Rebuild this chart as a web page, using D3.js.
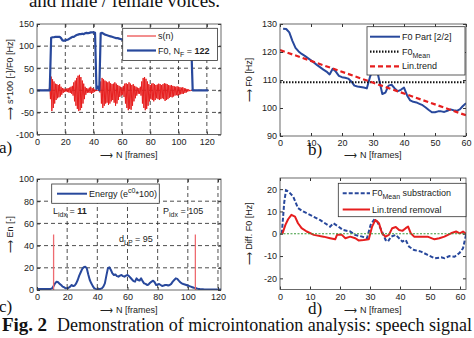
<!DOCTYPE html>
<html>
<head>
<meta charset="utf-8">
<script src="https://cdn.jsdelivr.net/npm/d3@7"></script>
<style>
  body { margin: 0; background: #fff; overflow: hidden; }
  svg { display: block; }
</style>
</head>
<body>
<script>
// a) speech signal envelope (s*100) per frame, and F0 per frame
const speechTop = [
  0, 0, 0, 0, 0, 0, 0, 0, 0, 10,
  31, 25, 20, 15, 14, 12, 14, 8, 5, 4,
  3, 4, 5, 6, 8, 10, 18, 22, 28, 33,
  35, 30, 22, 15, 8, 5, 4, 6, 8, 5,
  4, 2, 1, 1, 3, 20, 28, 25, 22, 20,
  18, 20, 16, 14, 15, 18, 15, 12, 10, 8,
  6, 10, 15, 16, 14, 18, 15, 12, 14, 10,
  8, 6, 5, 8, 20, 28, 30, 26, 20, 14,
  12, 15, 16, 14, 12, 13, 15, 14, 12, 14,
  16, 15, 14, 12, 11, 12, 10, 9, 8, 9,
  8, 7, 6, 7, 5, 4, 3, 2, 1, 0
];
const speechBottom = [
  0, 0, 0, 0, 0, 0, 0, 0, 0, -20,
  -47, -40, -30, -22, -18, -16, -14, -10, -6, -4,
  -3, -4, -5, -6, -8, -12, -25, -35, -42, -47,
  -45, -40, -30, -20, -10, -6, -5, -6, -8, -6,
  -4, -2, -1, -1, -5, -30, -40, -35, -30, -28,
  -33, -30, -25, -22, -28, -35, -30, -22, -15, -12,
  -10, -15, -30, -40, -45, -42, -44, -35, -25, -18,
  -12, -8, -8, -12, -30, -40, -45, -42, -35, -25,
  -20, -22, -25, -22, -18, -20, -22, -20, -18, -20,
  -24, -22, -20, -17, -15, -16, -14, -12, -11, -12,
  -10, -9, -8, -8, -6, -5, -3, -2, -1, 0
];
const f0Frames = [
  0, 0, 0, 0, 0, 0, 0, 0, 0, 0,
  119, 120, 120, 121, 121, 121, 121, 118, 113, 112,
  113, 114, 115, 117, 119, 121, 121, 123, 125, 126,
  127, 127, 128, 127, 129, 130, 129, 130, 131, 131,
  131, 130, 3, 8, 0, 129, 130, 128, 126, 125,
  124, 123, 122, 121, 120, 119, 118, 118, 117, 116,
  115, 114, 113, 114, 113, 112, 111, 111, 110, 110,
  109, 108, 108, 108, 107, 107, 107, 112, 114, 115,
  110, 105, 106, 108, 108, 107, 106, 107, 107, 105,
  103, 102, 102, 101, 101, 100, 100, 99, 99, 99,
  99, 99, 99, 99, 99, 100, 99, 99, 100, 102,
  0, 0, 0, 0, 0, 0, 0, 0, 0, 0, 0, 0
];
const framesCount = 122;

// b) second voiced part, frames 1..60
const partF0 = [
  128.3, 128.2, 127, 124, 121.5, 120.2, 119.3, 118.6, 117.8, 117,
  116.2, 115.3, 114.5, 113.7, 113, 112, 114, 113, 111.5, 111,
  110.8, 110.5, 109.5, 108, 107.7, 107.5, 107.3, 107, 111, 114,
  115, 110, 105, 105.5, 108, 108.3, 107, 106, 106.5, 107.3,
  104.5, 102.7, 102.2, 102, 101.5, 101, 100.2, 99.3, 98.5, 98.5,
  98.8, 98.8, 98.6, 99, 99.5, 99.2, 99, 99.5, 100.7, 101.7
];
const meanF0 = 109.2;
const trendFrames = [0, 60];
const trendF0 = [120.7, 97.4];

// c) energy per frame and the two boundary markers
const energy = [
  1, 1, 1, 1, 1, 1, 1, 1, 1, 1,
  1.5, 3.5, 6, 7.5, 7, 5.5, 4.5, 3, 2.5, 1.5,
  1.5, 2, 3, 4.5, 3.5, 4, 6, 9, 13, 16,
  19, 20.5, 21, 19.5, 14, 9, 6, 3.5, 1.5, 1,
  0.6, 0.8, 1, 1.5, 3, 6, 13, 19.5, 20.5, 18,
  15, 13.5, 14, 12.5, 12, 13, 13.5, 12.5, 12, 13,
  13.5, 12.5, 11, 9.5, 8, 7.5, 10.5, 9, 8.5, 10.5,
  8, 6, 5.5, 4.5, 5, 6.5, 7.5, 8.4, 7, 4.5,
  5, 5.4, 4.5, 3.6, 4, 4.5, 4.5, 4, 4.5, 5.5,
  7.5, 9, 10.5, 10, 8.4, 7, 6, 5.4, 5, 4.5,
  4, 3.5, 3, 2.5, 2, 1.8, 1.3, 1, 0.8, 0.7,
  0.6, 0.5, 0.5, 0.5, 0.5, 0.5, 0.5, 0.5, 0.5, 0.5, 0.5, 0.5, 0.5
];
const markerFrames = [11, 105];
const markerHeight = 50;
const lIdx = 11, pIdx = 105, dLP = 95;

// d) F0 differences
const diffMeanX = [0.6, 1.4, 2, 2.8, 4.4, 6, 7.7, 10, 13.3, 16.7, 17.8, 19.5, 21, 23.4, 25, 27.4, 29, 30.2, 31.3, 32.4, 34, 35.2, 36, 37, 38.6, 39.7, 40.8, 41.9, 43, 44.7, 47, 49.2, 51.5, 53.7, 54.8, 56.5, 58.2, 59.9, 61, 62];
const diffMeanY = [0, 14, 19.5, 19, 16.7, 11.5, 10, 8.5, 6.2, 3.2, 4.7, 3.2, 1.7, 1, -0.5, -1.3, -2, 4, 6.2, 5.5, 1, -2.8, -3.5, -1.3, -0.5, -2, -3.5, -2.8, -5.8, -7.3, -8, -9.5, -11, -10.6, -11, -10, -10.3, -8.5, -6.5, -0.5];
const diffTrendX = [0.8, 1.8, 2.7, 3.8, 5, 6, 7.2, 8.9, 11.3, 14.5, 16.7, 18.4, 19, 20.6, 21.8, 23.4, 25.1, 26.2, 27.9, 29.6, 30.7, 31.8, 33, 34, 35.2, 36.3, 37.4, 38.6, 39.7, 40.8, 41.9, 42.7, 43.6, 44.7, 47, 49.2, 51.5, 53.1, 54.8, 57, 58.7, 59.9, 61, 62];
const diffTrendY = [0, 4, 6.5, 8.5, 7.7, 4.7, 2.5, 1, -0.5, -1.3, -2, -2.5, -0.5, -0.5, -2, -1.3, -2, -3, -2.8, -2.5, 3.2, 6.2, 4.7, 0.2, -1.3, -0.5, 2.5, 3, 1.7, 1.3, 2.5, 3.2, 0.2, -1.3, -1.3, -1.3, -2.5, -2, -1.3, 0.2, 1, 0.2, 1, 0];

// tick values
const ticksA = { x: [0, 20, 40, 60, 80, 100, 120], y: [-100, -50, 0, 50, 100, 150] };
const ticksB = { x: [0, 10, 20, 30, 40, 50, 60], y: [90, 100, 110, 120, 130] };
const ticksC = { x: [0, 20, 40, 60, 80, 100, 120], y: [0, 20, 40, 60, 80, 100] };
const ticksD = { x: [0, 10, 20, 30, 40, 50, 60], y: [-20, -10, 0, 10, 20] };

const BLUE = "#28489c";
const RED = "#e61e1e";
const PINK = "#ee6b70";
const GREEN = "#3a9a3a";
const SANS = "'Liberation Sans', Arial, sans-serif";
const SERIF = "'Liberation Serif', 'Times New Roman', serif";

const svg = d3.select("body").append("svg")
  .attr("width", 474)
  .attr("height", 338)
  .attr("font-family", SANS);

let clipCount = 0;

function createPanel(box, xDomain, yDomain) {
  const x = d3.scaleLinear().domain(xDomain).range([box.left, box.right]);
  const y = d3.scaleLinear().domain(yDomain).range([box.bottom, box.top]);
  const id = `clip-${clipCount++}`;
  svg.append("clipPath").attr("id", id).append("rect")
    .attr("x", box.left).attr("y", box.top)
    .attr("width", box.right - box.left)
    .attr("height", box.bottom - box.top);
  const g = svg.append("g");
  const back = g.append("g");
  const marks = g.append("g").attr("clip-path", `url(#${id})`);
  const front = g.append("g");
  return { box, x, y, back, marks, front };
}

// dashed grid on the inner ticks only
function drawGrid(p, ticks) {
  const { box, x, y, back } = p;
  back.selectAll(null)
    .data(ticks.x.filter(v => x(v) > box.left + 1 && x(v) < box.right - 1))
    .join("line")
    .attr("x1", d => x(d)).attr("x2", d => x(d))
    .attr("y1", box.top).attr("y2", box.bottom);
  back.selectAll(null)
    .data(ticks.y.filter(v => y(v) > box.top + 1 && y(v) < box.bottom - 1))
    .join("line")
    .attr("x1", box.left).attr("x2", box.right)
    .attr("y1", d => y(d)).attr("y2", d => y(d));
  back.selectAll("line")
    .attr("stroke", "#222")
    .attr("stroke-width", 0.8)
    .attr("stroke-dasharray", "4,3");
}

function styleAxis(sel) {
  sel.select(".domain").remove();
  sel.attr("font-size", 9).attr("font-family", null);
  sel.selectAll("line").attr("stroke", "#333");
  sel.selectAll("text").attr("fill", "#222");
}

function drawAxes(p, ticks) {
  const { box, x, y, front } = p;
  const fmt = d => String(d);
  front.append("g")
    .attr("transform", `translate(0,${box.bottom})`)
    .call(d3.axisBottom(x).tickValues(ticks.x).tickFormat(fmt).tickSizeInner(-3).tickSizeOuter(0).tickPadding(4))
    .call(styleAxis);
  front.append("g")
    .attr("transform", `translate(${box.left},0)`)
    .call(d3.axisLeft(y).tickValues(ticks.y).tickFormat(fmt).tickSizeInner(-3).tickSizeOuter(0).tickPadding(3))
    .call(styleAxis);
  front.append("g")
    .attr("transform", `translate(0,${box.top})`)
    .call(d3.axisTop(x).tickValues(ticks.x).tickFormat("").tickSizeInner(-3).tickSizeOuter(0))
    .call(styleAxis);
  front.append("g")
    .attr("transform", `translate(${box.right},0)`)
    .call(d3.axisRight(y).tickValues(ticks.y).tickFormat("").tickSizeInner(-3).tickSizeOuter(0))
    .call(styleAxis);
  front.append("rect")
    .attr("x", box.left).attr("y", box.top)
    .attr("width", box.right - box.left)
    .attr("height", box.bottom - box.top)
    .attr("fill", "none")
    .attr("stroke", "#444")
    .attr("stroke-width", 0.8);
}

// text with sub/superscript parts: {t, sub, sup, bold}
function richText(text, parts) {
  let shift = 0;
  parts.forEach(part => {
    const target = part.sub ? 3 : part.sup ? -4 : 0;
    text.append("tspan")
      .attr("dy", target - shift)
      .attr("font-size", part.sub || part.sup ? 7 : null)
      .attr("font-weight", part.bold ? "bold" : null)
      .text(part.t);
    shift = target;
  });
  return text;
}

function axisLabels(p, xLabelY, yLabelX) {
  const { box, front } = p;
  front.append("text")
    .attr("x", (box.left + box.right) / 2)
    .attr("y", xLabelY)
    .attr("text-anchor", "middle")
    .attr("font-size", 9)
    .attr("fill", "#222")
    .text("\u27F6 N [frames]");
  return front.append("text")
    .attr("transform", `translate(${yLabelX},${(box.top + box.bottom) / 2}) rotate(-90)`)
    .attr("text-anchor", "middle")
    .attr("font-size", 9)
    .attr("fill", "#222");
}

function drawLegend(p, r, rows) {
  const lg = p.front.append("g");
  lg.append("rect")
    .attr("x", r.x0).attr("y", r.y0)
    .attr("width", r.x1 - r.x0).attr("height", r.y1 - r.y0)
    .attr("fill", "#fff")
    .attr("stroke", "#333")
    .attr("stroke-width", 0.8);
  rows.forEach(row => {
    lg.append("line")
      .attr("x1", r.s0).attr("x2", r.s1)
      .attr("y1", row.y).attr("y2", row.y)
      .attr("stroke", row.color)
      .attr("stroke-width", row.width)
      .attr("stroke-dasharray", row.dash || null);
    richText(lg.append("text")
      .attr("x", r.s1 + 2)
      .attr("y", row.y + 3)
      .attr("font-size", 9)
      .attr("fill", "#222"), row.label);
  });
}

function panelTag(label, x, y) {
  svg.append("text")
    .attr("x", x).attr("y", y)
    .attr("font-family", SERIF)
    .attr("font-size", 17)
    .attr("fill", "#111")
    .text(label);
}

// ---- a) speech signal and F0 ----
const pa = createPanel({ left: 37, right: 221, top: 24, bottom: 134.5 }, [0, 130], [-100, 150]);
drawGrid(pa, ticksA);
const speechPts = speechTop.flatMap((t, i) => [[i, t], [i + 0.5, speechBottom[i]]]);
pa.marks.append("path")
  .datum(speechPts)
  .attr("fill", "none")
  .attr("stroke", RED)
  .attr("stroke-width", 1)
  .attr("d", d3.line().x(d => pa.x(d[0])).y(d => pa.y(d[1])));
pa.marks.append("path")
  .datum(f0Frames)
  .attr("fill", "none")
  .attr("stroke", BLUE)
  .attr("stroke-width", 2.2)
  .attr("stroke-linejoin", "round")
  .attr("d", d3.line().x((d, i) => pa.x(i)).y(d => pa.y(d)));
drawAxes(pa, ticksA);
axisLabels(pa, 157.5, 12.5).text("\u27F6 s*100 [-]/F0 [Hz]");
drawLegend(pa, { x0: 122.7, x1: 217.5, y0: 28.3, y1: 60.5, s0: 127, s1: 156 }, [
  { y: 36, color: RED, width: 1, label: [{ t: "s(n)" }] },
  { y: 50.5, color: BLUE, width: 2.2, label: [{ t: "F0, N" }, { t: "F", sub: true }, { t: " = " }, { t: String(framesCount), bold: true }] }
]);

// ---- b) F0 of the second part with mean and linear trend ----
const pb = createPanel({ left: 280, right: 466, top: 24, bottom: 136 }, [0, 60], [90, 130]);
pb.marks.append("path")
  .datum(partF0)
  .attr("fill", "none")
  .attr("stroke", BLUE)
  .attr("stroke-width", 2)
  .attr("stroke-linejoin", "round")
  .attr("d", d3.line().x((d, i) => pb.x(i + 1)).y(d => pb.y(d)));
pb.marks.append("line")
  .attr("x1", pb.x(0)).attr("x2", pb.x(60))
  .attr("y1", pb.y(meanF0)).attr("y2", pb.y(meanF0))
  .attr("stroke", "#111")
  .attr("stroke-width", 2.2)
  .attr("stroke-dasharray", "1.5,1.5");
pb.marks.append("line")
  .attr("x1", pb.x(trendFrames[0])).attr("x2", pb.x(trendFrames[1]))
  .attr("y1", pb.y(trendF0[0])).attr("y2", pb.y(trendF0[1]))
  .attr("stroke", RED)
  .attr("stroke-width", 2.2)
  .attr("stroke-dasharray", "5,3");
drawAxes(pb, ticksB);
axisLabels(pb, 158, 251.5).text("\u27F6 F0 [Hz]");
drawLegend(pb, { x0: 367, x1: 465, y0: 26.7, y1: 75, s0: 370, s1: 400 }, [
  { y: 36.7, color: BLUE, width: 2, label: [{ t: "F0 Part [2/2]" }] },
  { y: 51.7, color: "#111", width: 2.2, dash: "1.5,1.5", label: [{ t: "F0" }, { t: "Mean", sub: true }] },
  { y: 66.3, color: RED, width: 2.2, dash: "5,3", label: [{ t: "Lin.trend" }] }
]);

// ---- c) energy with boundary markers ----
const pc = createPanel({ left: 37, right: 221, top: 179, bottom: 290 }, [0, 122], [0, 100]);
drawGrid(pc, ticksC);
pc.marks.append("path")
  .datum(energy)
  .attr("fill", "none")
  .attr("stroke", BLUE)
  .attr("stroke-width", 2)
  .attr("stroke-linejoin", "round")
  .attr("d", d3.line().x((d, i) => pc.x(i)).y(d => pc.y(d)));
pc.marks.selectAll(null)
  .data(markerFrames)
  .join("line")
  .attr("x1", d => pc.x(d)).attr("x2", d => pc.x(d))
  .attr("y1", pc.y(0)).attr("y2", pc.y(markerHeight))
  .attr("stroke", PINK)
  .attr("stroke-width", 1.3);
drawAxes(pc, ticksC);
axisLabels(pc, 312.5, 13).text("\u27F6 En [-]");
drawLegend(pc, { x0: 51.7, x1: 159.3, y0: 184, y1: 203.3, s0: 57, s1: 87 }, [
  { y: 193.7, color: BLUE, width: 2, label: [{ t: "Energy (e" }, { t: "c0", sup: true }, { t: "*100)" }] }
]);
const annot = [
  { x: 53, y: 214, parts: [{ t: "L" }, { t: "idx", sub: true }, { t: " = " }, { t: String(lIdx), bold: true }] },
  { x: 163, y: 214, parts: [{ t: "P" }, { t: "idx", sub: true }, { t: " = " + pIdx }] },
  { x: 119, y: 242, parts: [{ t: "d" }, { t: "LP", sub: true }, { t: " = " + dLP }] }
];
annot.forEach(a => {
  richText(pc.front.append("text")
    .attr("x", a.x).attr("y", a.y)
    .attr("font-size", 9)
    .attr("fill", "#222"), a.parts);
});

// ---- d) F0 after mean / trend removal ----
const pd = createPanel({ left: 280, right: 466, top: 178, bottom: 289.5 }, [0, 62], [-25, 25]);
pd.marks.append("path")
  .datum(diffMeanX.map((v, i) => [v, diffMeanY[i]]))
  .attr("fill", "none")
  .attr("stroke", BLUE)
  .attr("stroke-width", 2)
  .attr("stroke-dasharray", "4,2")
  .attr("d", d3.line().x(d => pd.x(d[0])).y(d => pd.y(d[1])));
pd.marks.append("path")
  .datum(diffTrendX.map((v, i) => [v, diffTrendY[i]]))
  .attr("fill", "none")
  .attr("stroke", RED)
  .attr("stroke-width", 2)
  .attr("stroke-linejoin", "round")
  .attr("d", d3.line().x(d => pd.x(d[0])).y(d => pd.y(d[1])));
pd.marks.append("line")
  .attr("x1", pd.x(0)).attr("x2", pd.x(62))
  .attr("y1", pd.y(0)).attr("y2", pd.y(0))
  .attr("stroke", GREEN)
  .attr("stroke-width", 1)
  .attr("stroke-dasharray", "2,1.5");
drawAxes(pd, ticksD);
axisLabels(pd, 312.5, 251.5).text("\u27F6 Diff. F0 [Hz]");
drawLegend(pd, { x0: 338.3, x1: 466, y0: 183.3, y1: 216.7, s0: 342.7, s1: 370 }, [
  { y: 193.3, color: BLUE, width: 2, dash: "4,2", label: [{ t: "F0" }, { t: "Mean", sub: true }, { t: " substraction" }] },
  { y: 209.5, color: RED, width: 2, label: [{ t: "Lin.trend removal" }] }
]);

// panel tags and surrounding text
panelTag("a)", -1, 153);
panelTag("b)", 308, 155);
panelTag("c)", -1, 312);
panelTag("d)", 308, 314);

svg.append("text")
  .attr("x", 29).attr("y", 7)
  .attr("font-family", SERIF)
  .attr("font-size", 19)
  .attr("textLength", 191)
  .attr("fill", "#111")
  .text("and male / female voices.");
svg.append("text")
  .attr("x", 2).attr("y", 331)
  .attr("font-family", SERIF)
  .attr("font-size", 19)
  .attr("font-weight", "bold")
  .attr("textLength", 45)
  .attr("fill", "#111")
  .text("Fig. 2");
svg.append("text")
  .attr("x", 57).attr("y", 331)
  .attr("font-family", SERIF)
  .attr("font-size", 19)
  .attr("textLength", 415)
  .attr("lengthAdjust", "spacingAndGlyphs")
  .attr("fill", "#111")
  .text("Demonstration of microintonation analysis: speech signal");
</script>
</body>
</html>
